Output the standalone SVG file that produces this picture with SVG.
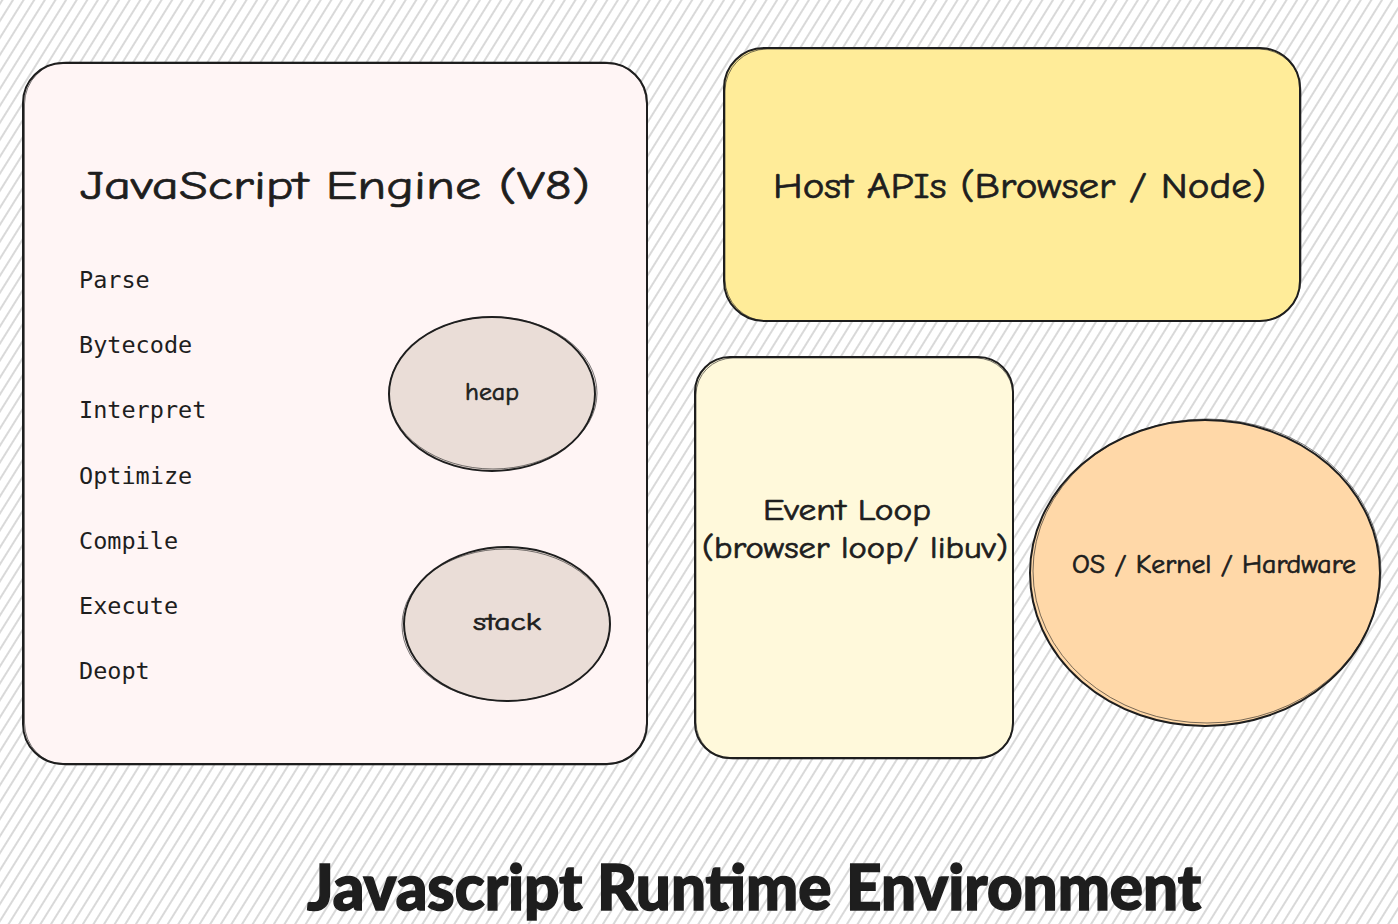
<svg xmlns="http://www.w3.org/2000/svg" width="1398" height="924" viewBox="0 0 1398 924">
<style>
.box{stroke:#1e1e1e;stroke-width:2;}
.sk{fill:none;stroke:#1e1e1e;stroke-width:1;opacity:0.6;}
.hand{font-family:"Comic Neue","Noto Sans","Liberation Sans",sans-serif;fill:#1e1e1e;stroke:#1e1e1e;stroke-width:0.7;}
.mono{font-family:"DejaVu Sans Mono","Liberation Mono",monospace;fill:#1e1e1e;font-size:23.5px;}
.title{font-family:Lato,Inter,"Liberation Sans",sans-serif;font-weight:900;fill:#1e1e1e;stroke:#1e1e1e;stroke-width:1.5;font-size:62px;}
</style>
<defs>
<pattern id="hatch" width="9" height="9" patternUnits="userSpaceOnUse" patternTransform="rotate(32)">
<line x1="2" y1="0" x2="2" y2="9" stroke="#c9c9c9" stroke-width="1.4"/>
</pattern>
</defs>
<rect width="1398" height="924" fill="#ffffff"/>
<rect width="1398" height="924" fill="url(#hatch)"/>

<g id="engine">
<rect class="box" x="23" y="63" width="624" height="701" rx="40" fill="#fff5f5"/>
<rect class="sk" x="24.5" y="62" width="622" height="703" rx="42"/>
<text class="hand" x="80" y="199" font-size="40" textLength="510" lengthAdjust="spacingAndGlyphs">JavaScript Engine (V8)</text>
<text class="mono" x="79" y="288">Parse</text>
<text class="mono" x="79" y="353">Bytecode</text>
<text class="mono" x="79" y="418">Interpret</text>
<text class="mono" x="79" y="484">Optimize</text>
<text class="mono" x="79" y="549">Compile</text>
<text class="mono" x="79" y="614">Execute</text>
<text class="mono" x="79" y="679">Deopt</text>
</g>

<g id="heap">
<ellipse class="box" cx="492" cy="394" rx="103" ry="77" fill="#eaddd7"/>
<ellipse class="sk" cx="493" cy="393" rx="104" ry="76"/>
<text class="hand" x="492" y="400" font-size="25" text-anchor="middle" textLength="54" lengthAdjust="spacingAndGlyphs">heap</text>
</g>

<g id="stack">
<ellipse class="box" cx="507" cy="624" rx="103" ry="77" fill="#eaddd7"/>
<ellipse class="sk" cx="506" cy="625" rx="104" ry="76"/>
<text class="hand" x="507" y="630" font-size="25" text-anchor="middle" textLength="68" lengthAdjust="spacingAndGlyphs">stack</text>
</g>

<g id="host-apis">
<rect class="box" x="724" y="48" width="576" height="273" rx="40" fill="#ffec99"/>
<rect class="sk" x="725" y="49" width="576" height="272" rx="42"/>
<text class="hand" x="773" y="198" font-size="36" textLength="493" lengthAdjust="spacingAndGlyphs">Host APIs (Browser / Node)</text>
</g>

<g id="event-loop">
<rect class="box" x="695" y="357" width="318" height="401" rx="35" fill="#fff9db"/>
<rect class="sk" x="696" y="358" width="317" height="401" rx="37"/>
<text class="hand" x="847" y="520" font-size="30" text-anchor="middle" textLength="168" lengthAdjust="spacingAndGlyphs">Event Loop</text>
<text class="hand" x="855" y="558" font-size="30" text-anchor="middle" textLength="306" lengthAdjust="spacingAndGlyphs">(browser loop/ libuv)</text>
</g>

<g id="os">
<ellipse class="box" cx="1205" cy="573" rx="175" ry="153" fill="#ffd8a8"/>
<ellipse class="sk" cx="1207" cy="571" rx="174" ry="152"/>
<text class="hand" x="1072" y="573" font-size="26" textLength="284" lengthAdjust="spacingAndGlyphs">OS / Kernel / Hardware</text>
</g>

<g id="connectors"></g>

<g id="caption">
<text class="title" x="307" y="910" textLength="894" lengthAdjust="spacingAndGlyphs">Javascript Runtime Environment</text>
</g>
</svg>
